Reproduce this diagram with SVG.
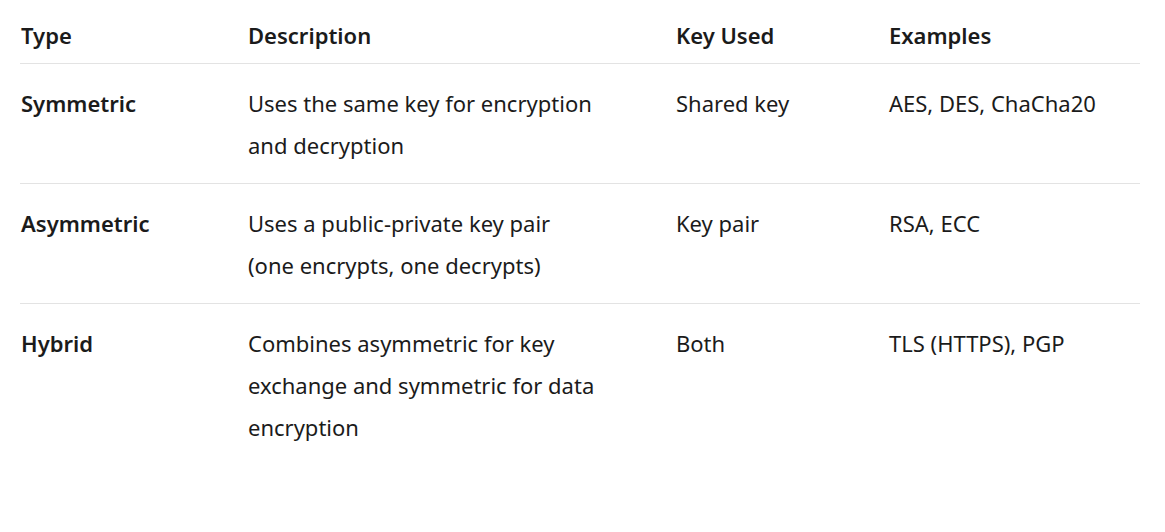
<svg xmlns="http://www.w3.org/2000/svg" width="1165" height="532" viewBox="0 0 1165 532">
<style>
text{font-family:"Segoe UI","Noto Sans","Open Sans",sans-serif;font-size:22px;fill:#1b1b1b}
.h{font-weight:600}
.b{font-weight:600}
line{stroke:#e3e3e3;stroke-width:1}
</style>
<rect width="1165" height="532" fill="#fff"/>
<g id="header">
<text class="h" x="21" y="44">Type</text>
<text class="h" x="248" y="44">Description</text>
<text class="h" x="676" y="44">Key Used</text>
<text class="h" x="889" y="44">Examples</text>
</g>
<g id="lines">
<line x1="20" y1="63.5" x2="1140" y2="63.5" stroke="#d6d6d6"/>
<line x1="20" y1="183.5" x2="1140" y2="183.5"/>
<line x1="20" y1="303.5" x2="1140" y2="303.5"/>
</g>
<g id="row-symmetric">
<text class="b" x="21" y="112">Symmetric</text>
<text x="248" y="112">Uses the same key for encryption</text>
<text x="248" y="154">and decryption</text>
<text x="676" y="112">Shared key</text>
<text x="889" y="112">AES, DES, ChaCha20</text>
</g>
<g id="row-asymmetric">
<text class="b" x="21" y="232">Asymmetric</text>
<text x="248" y="232">Uses a public-private key pair</text>
<text x="248" y="274">(one encrypts, one decrypts)</text>
<text x="676" y="232">Key pair</text>
<text x="889" y="232">RSA, ECC</text>
</g>
<g id="row-hybrid">
<text class="b" x="21" y="352">Hybrid</text>
<text x="248" y="352">Combines asymmetric for key</text>
<text x="248" y="394">exchange and symmetric for data</text>
<text x="248" y="436">encryption</text>
<text x="676" y="352">Both</text>
<text x="889" y="352">TLS (HTTPS), PGP</text>
</g>
</svg>
